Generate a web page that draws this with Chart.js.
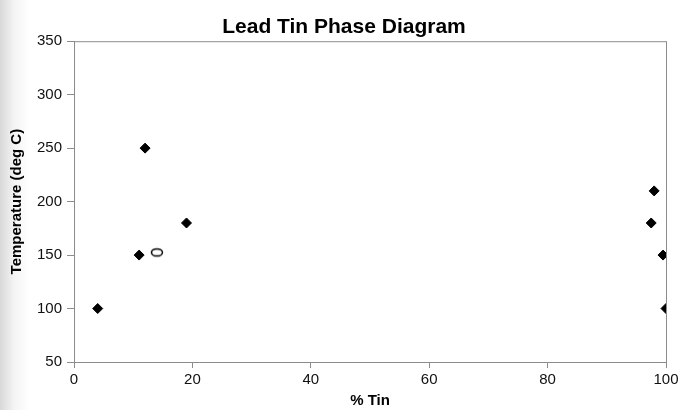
<!DOCTYPE html>
<html>
<head>
<meta charset="utf-8">
<script src="https://cdn.jsdelivr.net/npm/chart.js@4"></script>
<style>
  html, body { margin: 0; padding: 0; }
  body { width: 700px; height: 410px; background: linear-gradient(to right, #d8d8d8 0px, #f4f4f4 14px, #ffffff 30px); }
  #wrap { width: 700px; height: 410px; }
</style>
</head>
<body>
<div id="wrap"><canvas id="phaseChart" width="700" height="410"></canvas></div>
<script>
// measured points (diamonds)
const tinPct = [4, 11, 12, 19, 97.5, 98, 99.5, 100];
const tempC = [100, 150, 250, 180, 180, 210, 150, 100];
// open marker
const openTin = [14];
const openTemp = [152.5];

const xTicks = [0, 20, 40, 60, 80, 100];
const yTicks = [50, 100, 150, 200, 250, 300, 350];

// ellipse marker for the open point
const ellipse = document.createElement("canvas");
ellipse.width = 16;
ellipse.height = 12;
const ec = ellipse.getContext("2d");
ec.strokeStyle = "#000";
ec.lineWidth = 1.5;
ec.beginPath();
ec.ellipse(8, 6, 5.5, 3.6, 0, 0, Math.PI * 2);
ec.stroke();

// box around plot area (top + right edges), nudge title to page centre
const plotBox = {
  id: "plotBox",
  afterLayout(chart) {
    if (chart.titleBlock) {
      chart.titleBlock.left += 9;
      chart.titleBlock.right += 9;
    }
  },
  afterDraw(chart) {
    const { ctx, chartArea: a } = chart;
    ctx.save();
    ctx.strokeStyle = "#8c8c8c";
    ctx.lineWidth = 1;
    ctx.strokeRect(a.left + 0.5, a.top + 0.5, a.right - a.left, a.bottom - a.top);
    ctx.restore();
  },
};

const axisFont = { family: "Liberation Sans, Arial, sans-serif", size: 15 };
const titleFont = { family: "Liberation Sans, Arial, sans-serif", size: 15, weight: "bold" };

new Chart(document.getElementById("phaseChart"), {
  type: "scatter",
  data: {
    datasets: [
      {
        label: "Pb-Sn",
        data: tinPct.map((x, i) => ({ x: x, y: tempC[i] })),
        pointStyle: "rectRot",
        pointRadius: 5,
        backgroundColor: "#000",
        borderColor: "#000",
        borderWidth: 1,
      },
      {
        label: "open",
        data: openTin.map((x, i) => ({ x: x, y: openTemp[i] })),
        pointStyle: ellipse,
      },
    ],
  },
  options: {
    responsive: false,
    animation: false,
    layout: { padding: { left: 4, right: 34, top: 6, bottom: 0 } },
    plugins: {
      legend: { display: false },
      tooltip: { enabled: false },
      title: {
        display: true,
        text: "Lead Tin Phase Diagram",
        color: "#000",
        font: { family: "Liberation Sans, Arial, sans-serif", size: 21, weight: "bold" },
        padding: { top: 9, bottom: 1 },
      },
    },
    scales: {
      x: {
        type: "linear",
        min: 0,
        max: 100,
        afterBuildTicks: (axis) => { axis.ticks = xTicks.map((v) => ({ value: v })); },
        grid: { display: true, drawOnChartArea: false, drawTicks: true, tickLength: 6, color: "#8c8c8c" },
        border: { display: true, color: "#8c8c8c" },
        ticks: { color: "#111", font: axisFont, padding: 3, maxRotation: 0 },
        title: { display: true, text: "% Tin", color: "#000", font: titleFont, padding: { top: 0, bottom: 0 } },
      },
      y: {
        type: "linear",
        min: 50,
        max: 350,
        afterBuildTicks: (axis) => { axis.ticks = yTicks.map((v) => ({ value: v })); },
        grid: { display: true, drawOnChartArea: false, drawTicks: true, tickLength: 7, color: "#8c8c8c" },
        border: { display: true, color: "#8c8c8c" },
        ticks: { color: "#111", font: axisFont, padding: 5 },
        title: { display: true, text: "Temperature (deg C)", color: "#000", font: titleFont, padding: { top: 4, bottom: 6 } },
      },
    },
  },
  plugins: [plotBox],
});
</script>
</body>
</html>
